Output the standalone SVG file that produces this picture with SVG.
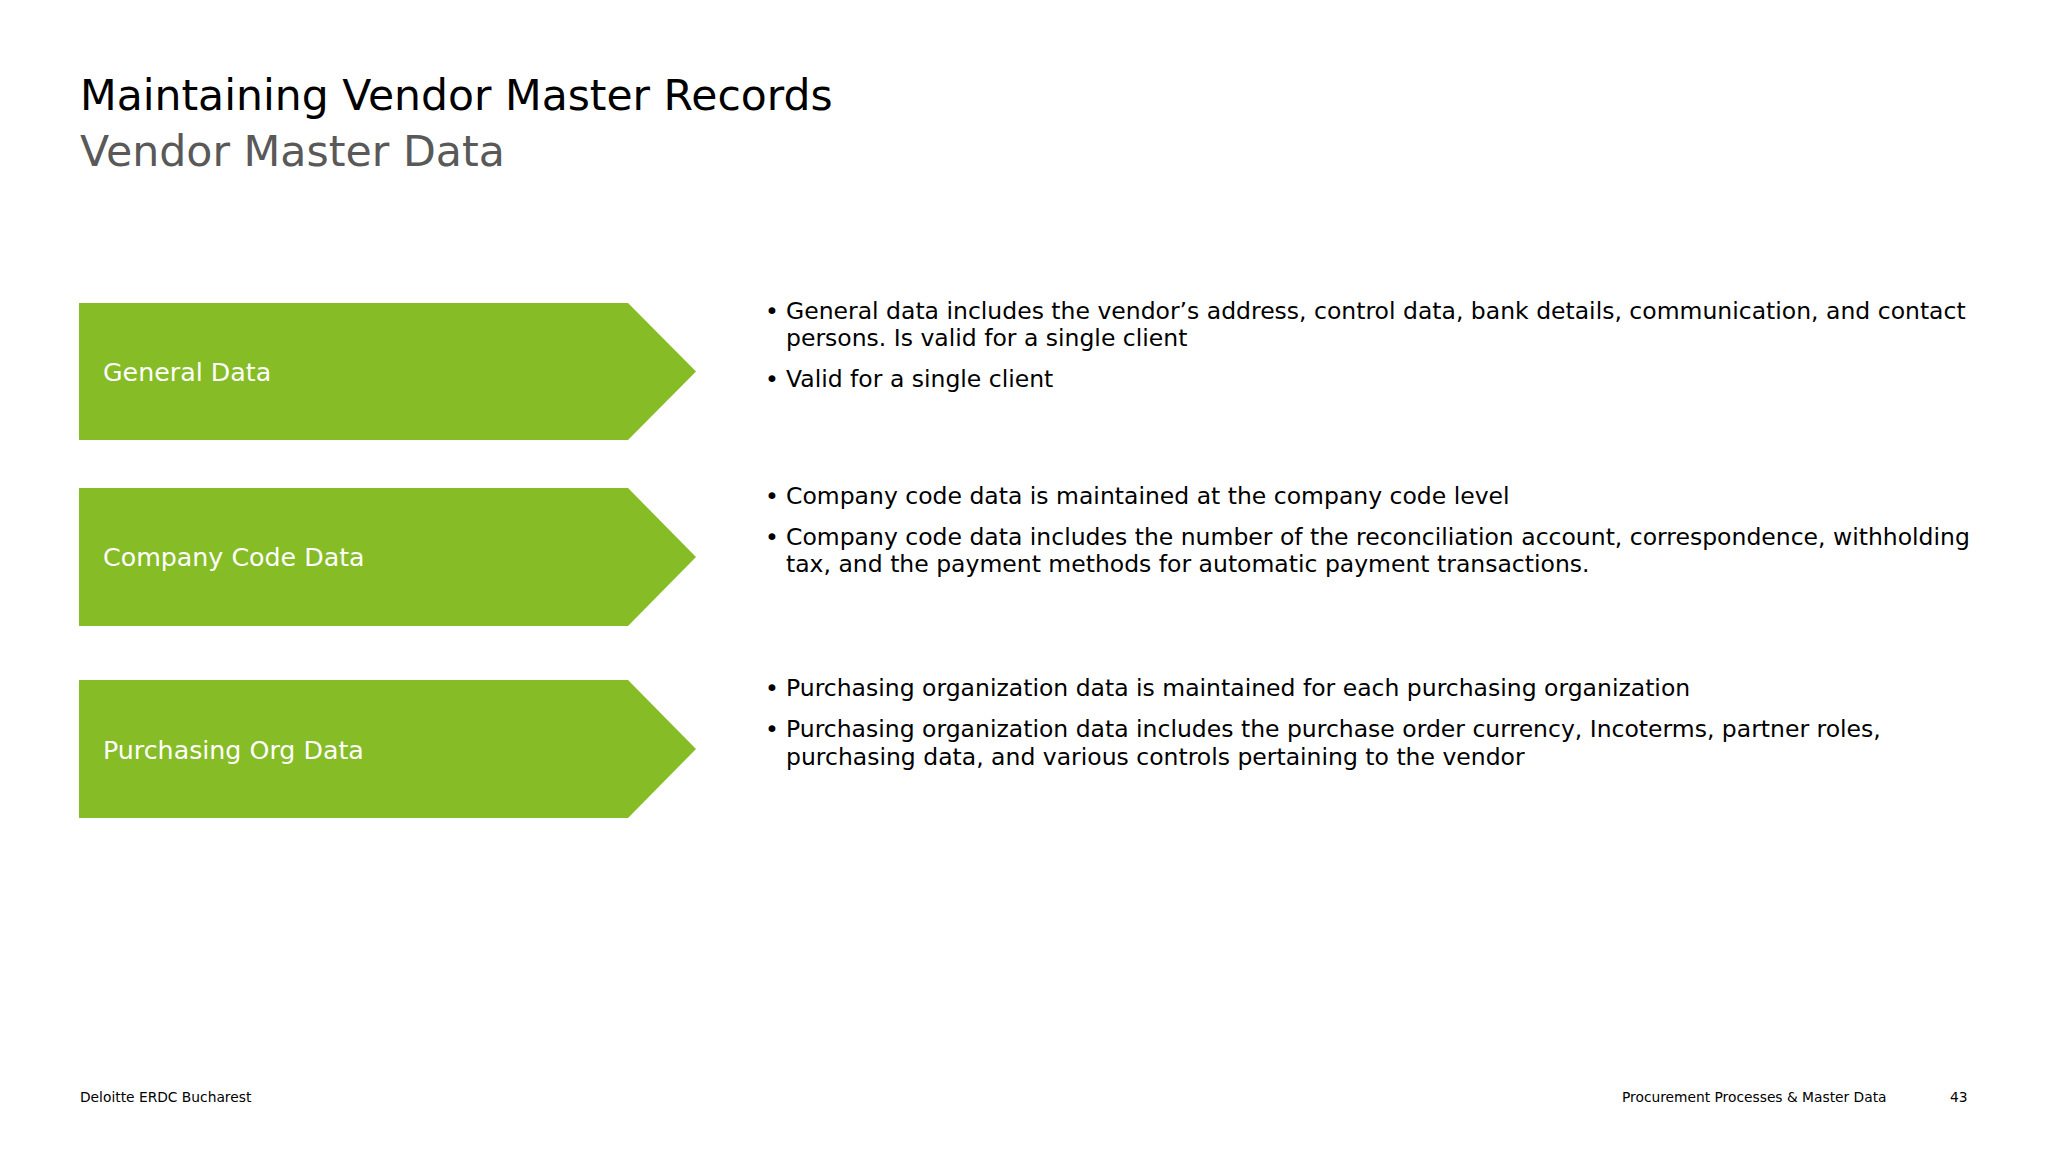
<svg xmlns="http://www.w3.org/2000/svg" width="2048" height="1152" viewBox="0 0 2048 1152">
<style>
.t{font-family:"DejaVu Sans","Liberation Sans",sans-serif}
.title{font-size:42.5px;fill:#000}
.sub{font-size:42.7px;fill:#595959}
.lbl{font-size:25.3px;fill:#fff}
.b{font-size:23.5px;fill:#000}
.f{font-size:13.8px;fill:#000}
.arrow{fill:#86BC25}
</style>
<rect width="2048" height="1152" fill="#fff"/>
<text class="t title" x="80" y="110">Maintaining Vendor Master Records</text>
<text class="t sub" x="80" y="166">Vendor Master Data</text>

<g id="node-general">
<polygon class="arrow" points="79,303 628,303 696,371.5 628,440 79,440"/>
<text class="t lbl" x="103" y="381">General Data</text>
</g>
<g id="node-company">
<polygon class="arrow" points="79,488 628,488 696,557 628,626 79,626"/>
<text class="t lbl" x="103" y="566">Company Code Data</text>
</g>
<g id="node-purchasing">
<polygon class="arrow" points="79,680 628,680 696,749 628,818 79,818"/>
<text class="t lbl" x="103" y="759">Purchasing Org Data</text>
</g>
<g id="connectors"></g>

<g id="text-general">
<text class="t b" x="765" y="319">•</text>
<text class="t b" x="786" y="319">General data includes the vendor’s address, control data, bank details, communication, and contact</text>
<text class="t b" x="786" y="346">persons. Is valid for a single client</text>
<text class="t b" x="765" y="387">•</text>
<text class="t b" x="786" y="387">Valid for a single client</text>
</g>
<g id="text-company">
<text class="t b" x="765" y="504">•</text>
<text class="t b" x="786" y="504">Company code data is maintained at the company code level</text>
<text class="t b" x="765" y="545">•</text>
<text class="t b" x="786" y="545">Company code data includes the number of the reconciliation account, correspondence, withholding</text>
<text class="t b" x="786" y="572">tax, and the payment methods for automatic payment transactions.</text>
</g>
<g id="text-purchasing">
<text class="t b" x="765" y="696">•</text>
<text class="t b" x="786" y="696">Purchasing organization data is maintained for each purchasing organization</text>
<text class="t b" x="765" y="737">•</text>
<text class="t b" x="786" y="737">Purchasing organization data includes the purchase order currency, Incoterms, partner roles,</text>
<text class="t b" x="786" y="765">purchasing data, and various controls pertaining to the vendor</text>
</g>

<text class="t f" x="80" y="1102">Deloitte ERDC Bucharest</text>
<text class="t f" x="1622" y="1102">Procurement Processes &amp; Master Data</text>
<text class="t f" x="1950" y="1102">43</text>
</svg>
